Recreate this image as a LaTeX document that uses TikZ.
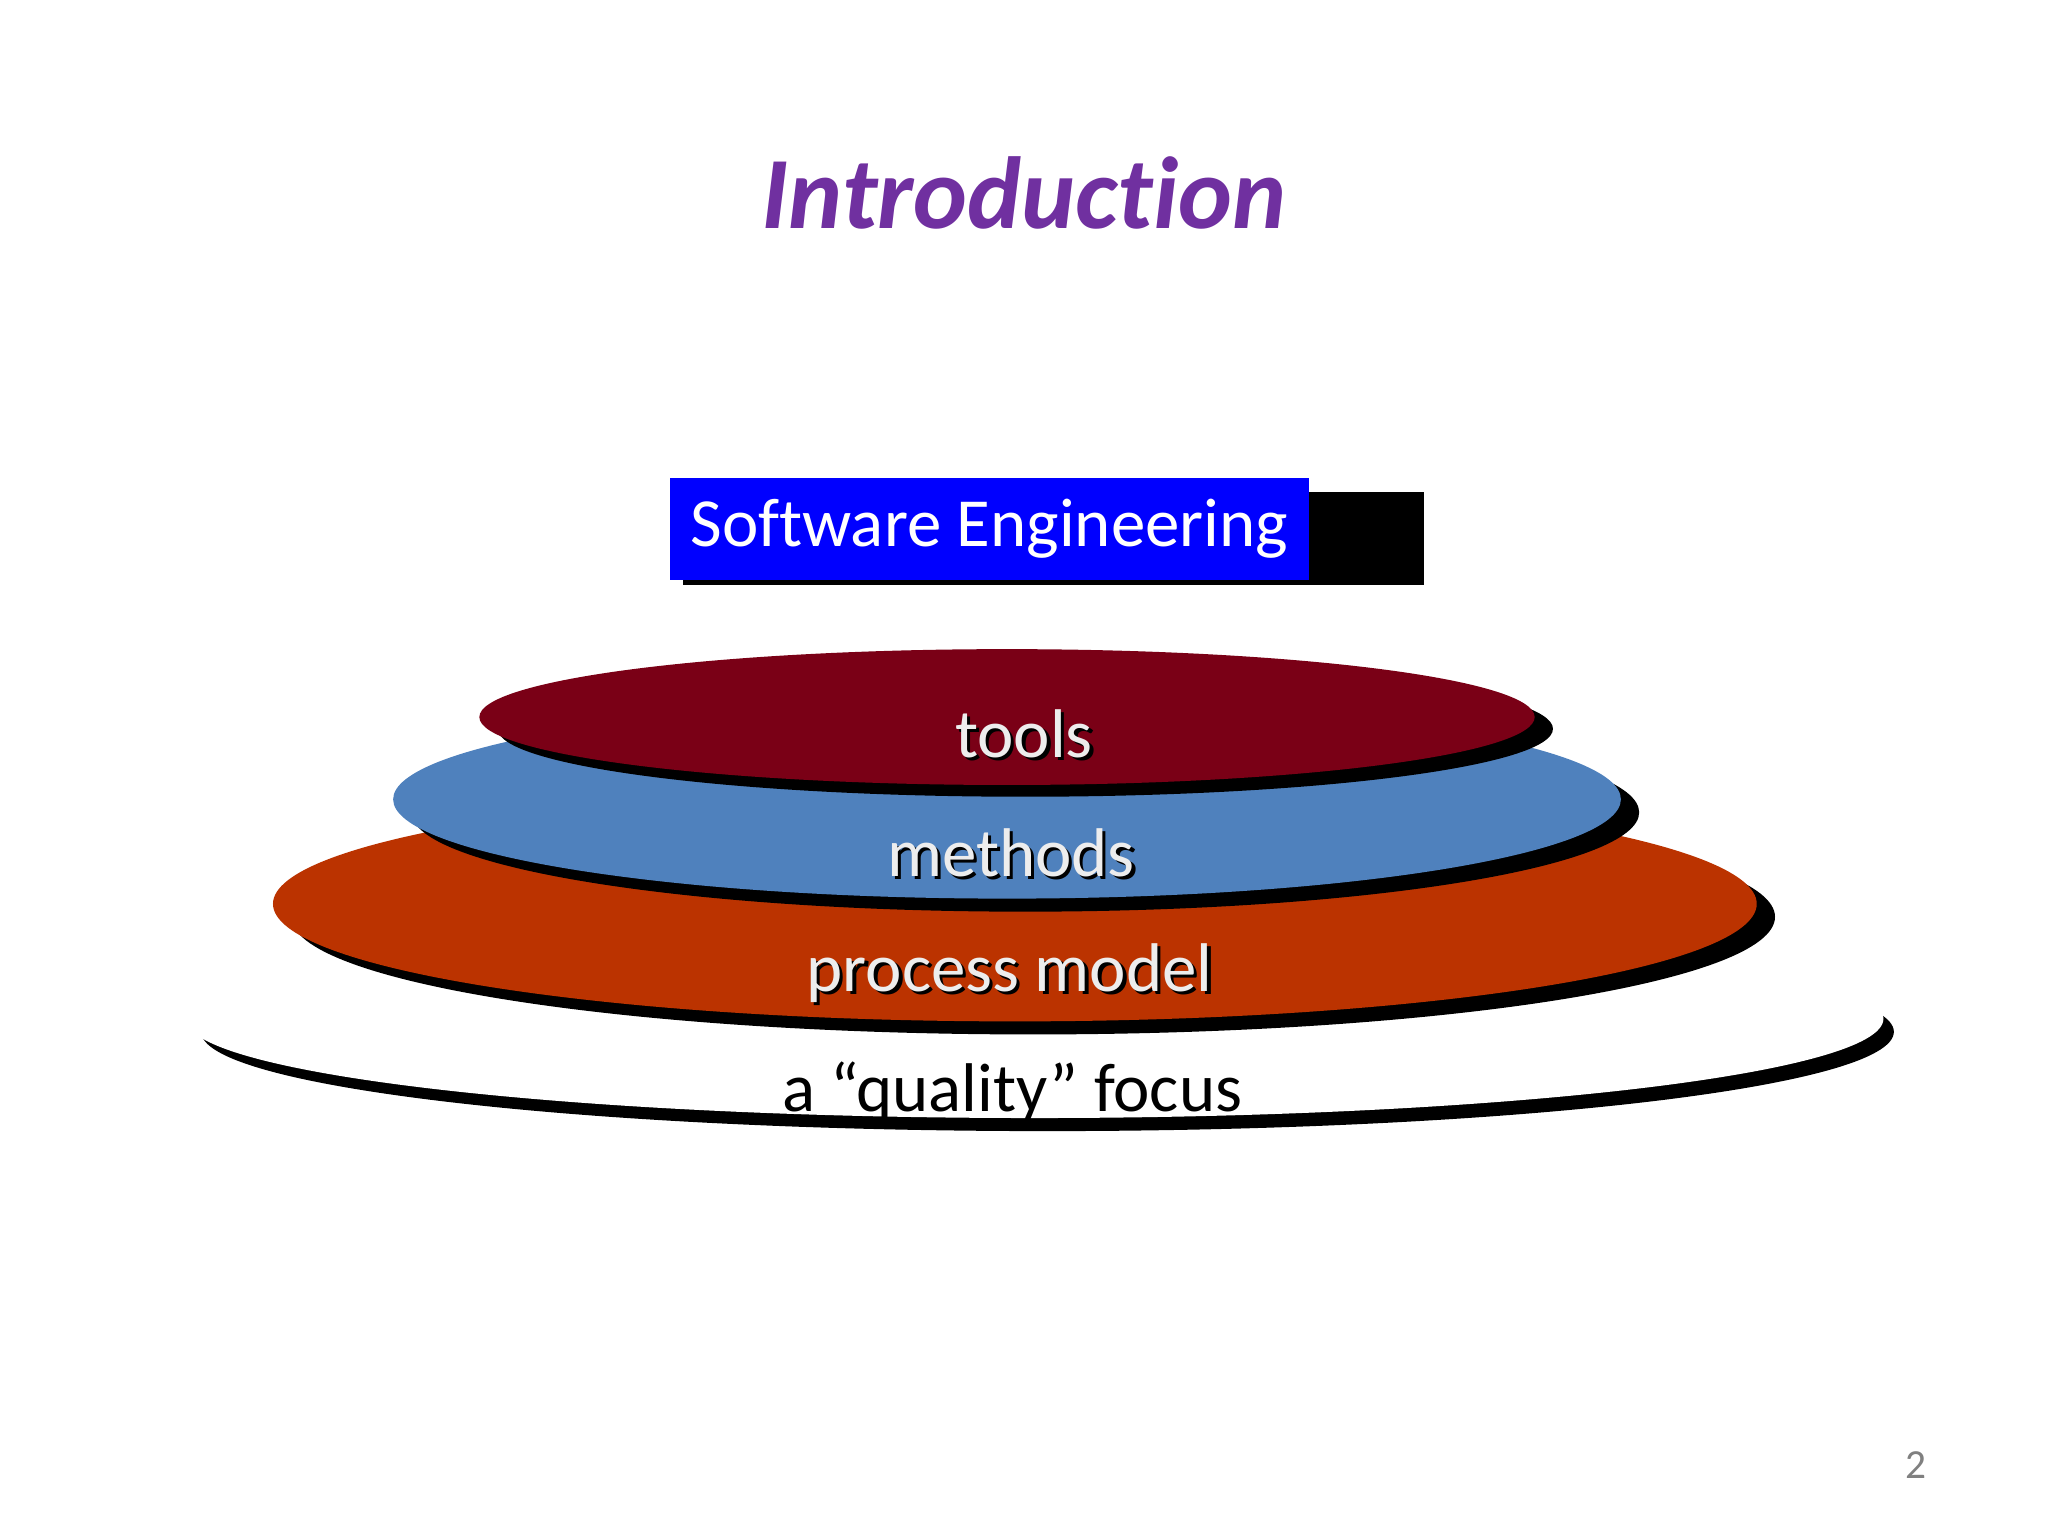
\documentclass[tikz,border=0pt]{standalone}
\usepackage{fontspec}
\setmainfont{Carlito}[Ligatures=NoCommon]
\definecolor{titlepurple}{HTML}{7030A0}
\definecolor{toolsred}{HTML}{7A0016}
\definecolor{methblue}{HTML}{4F81BD}
\definecolor{procorange}{HTML}{BB3300}
\definecolor{labelgray}{HTML}{EDEDED}
\begin{document}
\begin{tikzpicture}[x=0.01cm,y=-0.01cm,
  lbl/.style={font=\fontsize{15}{18}\selectfont, text=labelgray},
  lblsh/.style={font=\fontsize{15}{18}\selectfont, text=black}]
\useasboundingbox (0,0) rectangle (1568,1176);
\fill[white] (0,0) rectangle (1568,1176);
\node[font=\fontsize{22.3}{26}\selectfont\bfseries\itshape, text=titlepurple] (title) at (784,148) {Introduction};
% Software Engineering box
\fill[black] (523,377) rectangle (1090,448);
\node[fill=blue, minimum width=4.89cm, minimum height=0.78cm, inner sep=0pt, font=\fontsize{15}{18}\selectfont, text=white] (se) at (757.5,405) {Software Engineering};
% quality
\fill[black] (802,790) ellipse [x radius=648, y radius=76];
\fill[white] (792,780) ellipse [x radius=650, y radius=76];
% process
\fill[black] (791,702) ellipse [x radius=568, y radius=90];
\fill[procorange] (777,692) ellipse [x radius=568, y radius=90];
% methods
\fill[black] (785,622) ellipse [x radius=470, y radius=76];
\fill[methblue] (771,612) ellipse [x radius=470, y radius=76];
% tools
\fill[black] (785,558) ellipse [x radius=404, y radius=52];
\fill[toolsred] (771,549) ellipse [x radius=404, y radius=52];
% labels
\node[lblsh] at (786.5,564.5) {tools};
\node[lbl] (tools) at (784,562) {tools};
\node[lblsh] at (776.5,655.5) {methods};
\node[lbl] (methods) at (774,653) {methods};
\node[lblsh] at (775.5,747.5) {process model};
\node[lbl] (process) at (773,745) {process model};
\node[font=\fontsize{15}{18}\selectfont] (quality) at (775,836) {a “quality” focus};
\node[font=\fontsize{9}{10}\selectfont, text=gray] (page) at (1467,1122) {2};
\end{tikzpicture}
\end{document}
